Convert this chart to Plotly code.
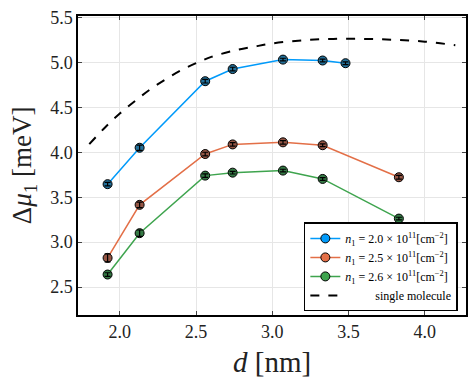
import plotly.graph_objects as go

# ---- data ----
d_blue = [1.92, 2.13, 2.56, 2.74, 3.07, 3.33, 3.48]
mu_blue = [3.645, 4.05, 4.79, 4.925, 5.03, 5.02, 4.99]
err_blue = [0.02, 0.03, 0.02, 0.02, 0.015, 0.015, 0.015]

d_orange = [1.92, 2.13, 2.56, 2.74, 3.07, 3.33, 3.83]
mu_orange = [2.825, 3.415, 3.98, 4.087, 4.11, 4.078, 3.722]
err_orange = [0.045, 0.03, 0.02, 0.02, 0.02, 0.015, 0.02]

d_green = [1.92, 2.13, 2.56, 2.74, 3.07, 3.33, 3.83]
mu_green = [2.64, 3.10, 3.74, 3.773, 3.796, 3.703, 3.262]
err_green = [0.02, 0.035, 0.02, 0.015, 0.015, 0.015, 0.015]

d_single = [1.80, 1.90, 2.00, 2.10, 2.20, 2.30, 2.40, 2.50, 2.60, 2.75, 2.90,
            3.00, 3.20, 3.40, 3.60, 3.80, 4.00, 4.20]
mu_single = [4.09, 4.27, 4.43, 4.57, 4.70, 4.81, 4.91, 4.99, 5.06, 5.13, 5.18,
             5.21, 5.245, 5.26, 5.26, 5.25, 5.23, 5.19]

labels = [
    "<i>n</i><sub>1</sub> = 2.0 × 10<sup>11</sup>[cm<sup>−2</sup>]",
    "<i>n</i><sub>1</sub> = 2.5 × 10<sup>11</sup>[cm<sup>−2</sup>]",
    "<i>n</i><sub>1</sub> = 2.6 × 10<sup>11</sup>[cm<sup>−2</sup>]",
    "          single molecule",
]
x_ticks = [2.0, 2.5, 3.0, 3.5, 4.0]
y_ticks = [2.5, 3.0, 3.5, 4.0, 4.5, 5.0, 5.5]

colors = ["#009AFA", "#E36F47", "#3EA44E"]
dark_colors = ["#22709a", "#945544", "#357a45"]

FONT = "Liberation Serif, Times New Roman, serif"

fig = go.Figure()

# single molecule dashed curve
fig.add_trace(go.Scatter(
    x=d_single, y=mu_single, mode="lines", line_shape="spline",
    line=dict(color="black", width=2, dash="dash"),
    showlegend=False,
))

series = [(d_blue, mu_blue, err_blue), (d_orange, mu_orange, err_orange),
          (d_green, mu_green, err_green)]
for (xs, ys, es), c, dc in zip(series, colors, dark_colors):
    fig.add_trace(go.Scatter(
        x=xs, y=ys, mode="lines+markers",
        line=dict(color=c, width=1.5),
        marker=dict(color=dc, size=9, line=dict(color="black", width=1)),
        showlegend=False,
    ))
# error bars drawn on top of markers
for (xs, ys, es) in series:
    fig.add_trace(go.Scatter(
        x=xs, y=ys, mode="markers",
        marker=dict(size=1, opacity=0),
        error_y=dict(type="data", array=es, color="black", thickness=1.2, width=3),
        showlegend=False, hoverinfo="skip",
    ))

# legend-only entries
for c, lab in zip(colors, labels[:3]):
    fig.add_trace(go.Scatter(
        x=[None], y=[None], mode="lines+markers", name=lab,
        line=dict(color=c, width=1.5),
        marker=dict(color=c, size=9, line=dict(color="black", width=1)),
    ))
fig.add_trace(go.Scatter(
    x=[None], y=[None], mode="lines", name=labels[3],
    line=dict(color="black", width=2, dash="dash"),
))

axis_common = dict(
    showline=True, linecolor="black", linewidth=1.5, mirror="ticks",
    showgrid=True, gridcolor="#e6e6e6", gridwidth=1,
    ticks="inside", ticklen=4, tickcolor="#444", tickwidth=1,
    zeroline=False,
    tickfont=dict(family=FONT, size=18, color="#222"),
)

fig.update_xaxes(range=[1.726, 4.27], tickvals=x_ticks,
                 ticktext=[f"{v:.1f}" for v in x_ticks], **axis_common)
fig.update_yaxes(range=[2.19, 5.515], tickvals=y_ticks,
                 ticktext=[f"{v:.1f}" for v in y_ticks], **axis_common)

fig.update_layout(
    width=474, height=382,
    margin=dict(l=78, r=6, t=16, b=67),
    plot_bgcolor="white", paper_bgcolor="white",
    font=dict(family=FONT, color="black"),
    legend=dict(
        x=0.979, y=0.012, xanchor="right", yanchor="bottom",
        bgcolor="white", bordercolor="black", borderwidth=1.5,
        font=dict(family=FONT, size=12, color="black"),
        tracegroupgap=0, itemwidth=30,
    ),
    annotations=[
        dict(text="<i>d</i> [nm]", xref="paper", yref="paper",
             x=0.5, y=-0.157, xanchor="center", yanchor="middle",
             showarrow=False, font=dict(family=FONT, size=29, color="#222")),
        dict(text="Δ<i>μ</i><sub>1</sub> [meV]", xref="paper", yref="paper",
             x=-0.14, y=0.5, xanchor="center", yanchor="middle", textangle=-90,
             showarrow=False, font=dict(family=FONT, size=27, color="#222")),
    ],
)

fig.write_html("out.html", config={"displayModeBar": False},
               post_script="document.body.style.margin='0';document.body.style.overflow='hidden';")
